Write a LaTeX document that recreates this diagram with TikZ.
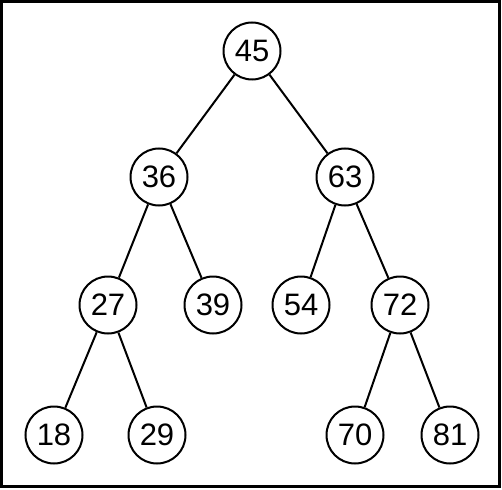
\documentclass[tikz,border=0pt]{standalone}
\usepackage{fontspec}
\setmainfont{Liberation Sans}
\newcommand{\keyfont}{\fontsize{31pt}{34pt}\selectfont}

\begin{document}
\begin{tikzpicture}[x=1pt,y=-1pt,
        key/.style={circle,draw,line width=2pt,minimum size=57pt,inner sep=0pt,font=\keyfont}]
        \useasboundingbox (0,0) rectangle (502,489);
        \draw[line width=3pt] (1.5,1.5) rectangle (499.5,486.5);
        \foreach \v/\x/\y in {45/252/51,36/159/177,63/345/177,27/108/305,39/213/305,
                54/301/305,72/400/305,18/54/435,29/157/435,70/355/435,81/450/435} {
            \node[key] (n\v) at (\x,\y) {\v};
        }
        \foreach \a/\b in {45/36,45/63,36/27,36/39,63/54,63/72,27/18,27/29,72/70,72/81} {
            \draw[line width=2pt] (n\a) -- (n\b);
        }
    \end{tikzpicture}
\end{document}
